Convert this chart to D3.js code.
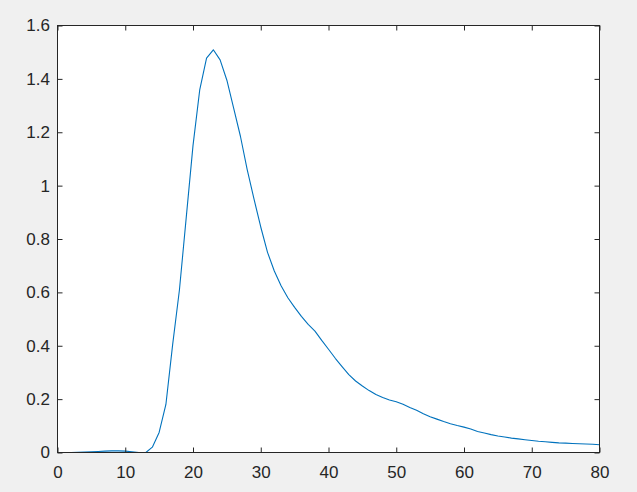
<!DOCTYPE html>
<html>
<head>
<meta charset="utf-8">
<script src="https://cdn.jsdelivr.net/npm/d3@7"></script>
<style>
html,body{margin:0;padding:0;background:#f0f0f0;}
svg{display:block;}
text{font-family:"Liberation Sans",Arial,sans-serif;}
</style>
</head>
<body>
<svg id="chart" width="637" height="492"></svg>
<script>
const xValues = d3.range(1, 81);
const yValues = [
  0.000, 0.000, 0.001, 0.002, 0.003, 0.004, 0.005, 0.006, 0.006, 0.005,
  0.003, 0.000, -0.001, 0.020, 0.075, 0.180, 0.405, 0.610, 0.880, 1.150,
  1.360, 1.478, 1.509, 1.471, 1.395, 1.290, 1.185, 1.060, 0.950, 0.845,
  0.750, 0.680, 0.625, 0.580, 0.544, 0.510, 0.480, 0.455, 0.420, 0.387,
  0.353, 0.322, 0.292, 0.268, 0.249, 0.232, 0.217, 0.206, 0.197, 0.190,
  0.181, 0.169, 0.158, 0.145, 0.134, 0.125, 0.116, 0.108, 0.101, 0.095,
  0.088, 0.079, 0.073, 0.067, 0.062, 0.058, 0.054, 0.051, 0.048, 0.045,
  0.042, 0.040, 0.038, 0.036, 0.035, 0.034, 0.033, 0.032, 0.031, 0.029
];
const xTicks = [0, 10, 20, 30, 40, 50, 60, 70, 80];
const yTicks = [0, 0.2, 0.4, 0.6, 0.8, 1, 1.2, 1.4, 1.6];

const L = 57.5, R = 599.5, T = 25.5, B = 452.5;
const svg = d3.select("#chart");
const x = d3.scaleLinear().domain([0, 80]).range([L, R]);
const y = d3.scaleLinear().domain([0, 1.6]).range([B, T]);
const axisColor = "#262626";
const tickLen = 5;
const fmt = d => String(+d.toFixed(1));

svg.append("rect").attr("x", L).attr("y", T).attr("width", R - L).attr("height", B - T)
  .attr("fill", "#ffffff");

svg.append("clipPath").attr("id", "clip").append("rect")
  .attr("x", L).attr("y", T).attr("width", R - L).attr("height", B - T);

const line = d3.line().x((d, i) => x(xValues[i])).y(d => y(d));
svg.append("path").datum(yValues)
  .attr("d", line)
  .attr("fill", "none")
  .attr("stroke", "#0072BD")
  .attr("stroke-width", 1.1)
  .attr("stroke-linejoin", "round")
  .attr("clip-path", "url(#clip)");

function styleAxis(g) {
  g.select(".domain").remove();
  g.selectAll(".tick line").attr("stroke", axisColor);
  g.selectAll(".tick text").attr("fill", axisColor).style("font-size", "17px");
}

svg.append("g").attr("transform", `translate(0,${B})`)
  .call(d3.axisBottom(x).tickValues(xTicks).tickSize(-tickLen).tickPadding(13).tickFormat(fmt))
  .call(styleAxis);
svg.append("g").attr("transform", `translate(0,${T})`)
  .call(d3.axisTop(x).tickValues(xTicks).tickSize(-tickLen).tickFormat(""))
  .call(styleAxis);
svg.append("g").attr("transform", `translate(${L},0)`)
  .call(d3.axisLeft(y).tickValues(yTicks).tickSize(-tickLen).tickPadding(7.5).tickFormat(fmt))
  .call(styleAxis);
svg.append("g").attr("transform", `translate(${R},0)`)
  .call(d3.axisRight(y).tickValues(yTicks).tickSize(-tickLen).tickFormat(""))
  .call(styleAxis);

svg.append("rect").attr("x", L).attr("y", T).attr("width", R - L).attr("height", B - T)
  .attr("fill", "none").attr("stroke", axisColor).attr("stroke-width", 1);
</script>
</body>
</html>
